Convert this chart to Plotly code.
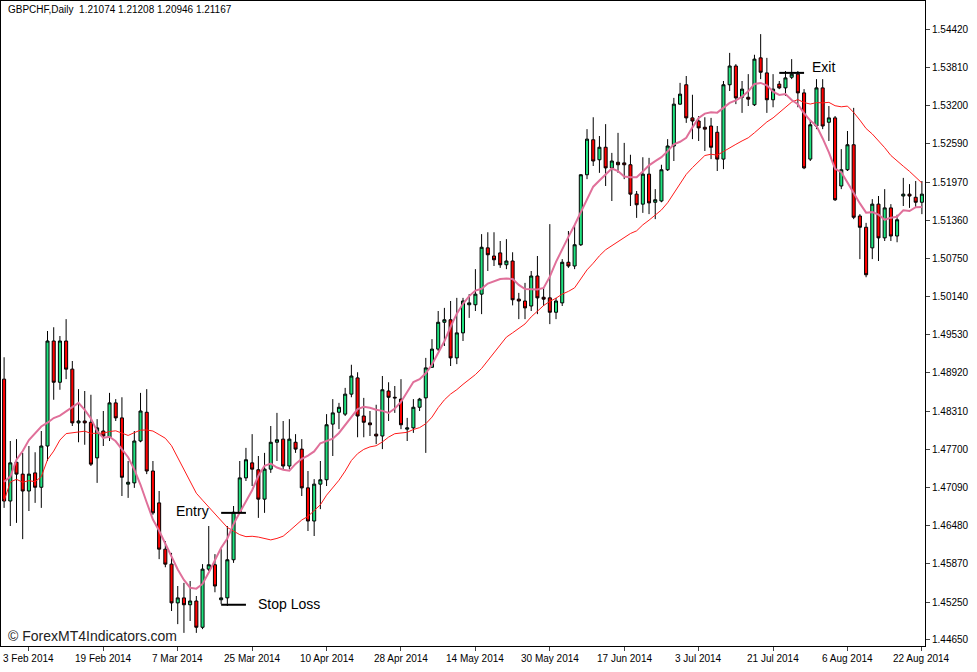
import pandas as pd
import plotly.graph_objects as go

dates = [d.strftime("%Y-%m-%d") for d in pd.bdate_range("2014-01-28", periods=149)]

opens = [1.4882,1.4687,1.4749,1.4730,1.4703,1.4732,1.4709,1.4775,1.4943,1.4877,
1.4943,1.4898,1.4812,1.4815,1.4813,1.4756,1.4799,1.4789,1.4844,1.4820,
1.4714,1.4716,1.4783,1.4829,1.4735,1.4684,1.4610,1.4586,1.4524,1.4532,
1.4521,1.4527,1.4485,1.4578,1.4585,1.4529,1.4532,1.4593,1.4669,1.4724,
1.4748,1.4737,1.4690,1.4738,1.4781,1.4786,1.4743,1.4781,1.4770,1.4708,
1.4655,1.4714,1.4721,1.4810,1.4829,1.4826,1.4858,1.4884,1.4823,1.4812,
1.4794,1.4791,1.4863,1.4853,1.4850,1.4802,1.4804,1.4837,1.4852,1.4901,
1.4930,1.4973,1.4977,1.4916,1.4956,1.5001,1.5001,1.5018,1.5092,1.5079,
1.5084,1.5065,1.5071,1.5010,1.5007,1.4999,1.5047,1.5013,1.5012,1.4989,
1.5004,1.5069,1.5063,1.5097,1.5209,1.5265,1.5233,1.5253,1.5220,1.5229,
1.5228,1.5225,1.5178,1.5162,1.5210,1.5165,1.5167,1.5217,1.5255,1.5322,
1.5353,1.5300,1.5295,1.5285,1.5287,1.5277,1.5234,1.5353,1.5383,1.5333,
1.5333,1.5321,1.5396,1.5372,1.5329,1.5354,1.5348,1.5365,1.5370,1.5340,
1.5234,1.5287,1.5348,1.5293,1.5300,1.5191,1.5217,1.5257,1.5143,1.5125,
1.5092,1.5162,1.5108,1.5156,1.5111,1.5175,1.5178,1.5173,1.5165]
highs = [1.4917,1.4783,1.4786,1.4764,1.4775,1.4765,1.4799,1.4959,1.4965,1.4951,
1.4978,1.4911,1.4866,1.4863,1.4857,1.4818,1.4831,1.4860,1.4850,1.4853,
1.4751,1.4799,1.4860,1.4866,1.4751,1.4703,1.4623,1.4604,1.4551,1.4556,
1.4559,1.4535,1.4586,1.4647,1.4602,1.4610,1.4647,1.4679,1.4751,1.4772,
1.4794,1.4759,1.4764,1.4807,1.4828,1.4815,1.4818,1.4794,1.4786,1.4735,
1.4722,1.4751,1.4826,1.4850,1.4844,1.4868,1.4905,1.4893,1.4852,1.4831,
1.4841,1.4887,1.4877,1.4871,1.4882,1.4820,1.4850,1.4852,1.4916,1.4946,
1.4991,1.4996,1.5007,1.5012,1.5012,1.5018,1.5058,1.5114,1.5117,1.5117,
1.5103,1.5106,1.5085,1.5020,1.5036,1.5055,1.5079,1.5028,1.5130,1.5012,
1.5074,1.5119,1.5130,1.5210,1.5282,1.5301,1.5271,1.5290,1.5244,1.5276,
1.5260,1.5241,1.5183,1.5237,1.5236,1.5186,1.5225,1.5266,1.5332,1.5356,
1.5367,1.5337,1.5303,1.5301,1.5300,1.5287,1.5359,1.5404,1.5386,1.5359,
1.5370,1.5401,1.5434,1.5396,1.5370,1.5359,1.5375,1.5394,1.5375,1.5346,
1.5295,1.5362,1.5362,1.5319,1.5303,1.5250,1.5279,1.5316,1.5146,1.5132,
1.5170,1.5175,1.5186,1.5162,1.5145,1.5204,1.5194,1.5199,1.5199]
lows = [1.4676,1.4647,1.4652,1.4626,1.4671,1.4684,1.4676,1.4751,1.4849,1.4865,
1.4882,1.4807,1.4781,1.4777,1.4743,1.4716,1.4775,1.4783,1.4815,1.4695,
1.4692,1.4708,1.4781,1.4730,1.4665,1.4594,1.4581,1.4511,1.4490,1.4476,
1.4495,1.4476,1.4482,1.4575,1.4541,1.4522,1.4519,1.4588,1.4668,1.4719,
1.4711,1.4660,1.4668,1.4732,1.4751,1.4738,1.4738,1.4764,1.4695,1.4639,
1.4631,1.4674,1.4711,1.4759,1.4802,1.4823,1.4853,1.4789,1.4789,1.4791,
1.4778,1.4770,1.4815,1.4828,1.4802,1.4783,1.4796,1.4831,1.4764,1.4900,
1.4927,1.4935,1.4903,1.4906,1.4943,1.4980,1.4991,1.4986,1.5055,1.5063,
1.5060,1.5058,1.5000,1.4978,1.4978,1.4991,1.4986,1.4999,1.4970,1.4978,
1.4999,1.5060,1.5058,1.5095,1.5202,1.5223,1.5212,1.5191,1.5167,1.5212,
1.5202,1.5159,1.5140,1.5148,1.5146,1.5138,1.5165,1.5215,1.5231,1.5321,
1.5292,1.5266,1.5263,1.5247,1.5234,1.5215,1.5218,1.5343,1.5322,1.5308,
1.5319,1.5319,1.5362,1.5308,1.5317,1.5346,1.5335,1.5362,1.5317,1.5218,
1.5231,1.5282,1.5282,1.5263,1.5167,1.5186,1.5215,1.5138,1.5074,1.5045,
1.5074,1.5071,1.5103,1.5103,1.5101,1.5159,1.5156,1.5156,1.5146]
closes = [1.4687,1.4748,1.4730,1.4703,1.4730,1.4709,1.4775,1.4943,1.4877,1.4943,
1.4898,1.4812,1.4815,1.4812,1.4746,1.4804,1.4791,1.4844,1.4820,1.4725,
1.4717,1.4783,1.4831,1.4735,1.4668,1.4610,1.4586,1.4524,1.4532,1.4521,
1.4527,1.4485,1.4578,1.4585,1.4551,1.4532,1.4593,1.4669,1.4724,1.4753,
1.4738,1.4690,1.4738,1.4781,1.4785,1.4743,1.4786,1.4770,1.4708,1.4655,
1.4714,1.4721,1.4809,1.4828,1.4837,1.4858,1.4887,1.4823,1.4813,1.4809,
1.4791,1.4865,1.4853,1.4852,1.4809,1.4804,1.4837,1.4850,1.4900,1.4930,
1.4973,1.4977,1.4916,1.4956,1.5007,1.5004,1.5018,1.5093,1.5081,1.5073,
1.5065,1.5071,1.5009,1.5007,1.4996,1.5047,1.5012,1.5010,1.4989,1.5007,
1.5069,1.5063,1.5097,1.5209,1.5266,1.5231,1.5253,1.5220,1.5231,1.5225,
1.5225,1.5178,1.5161,1.5210,1.5164,1.5169,1.5217,1.5255,1.5322,1.5338,
1.5300,1.5295,1.5284,1.5282,1.5253,1.5234,1.5353,1.5383,1.5332,1.5346,
1.5330,1.5394,1.5373,1.5329,1.5346,1.5348,1.5364,1.5370,1.5340,1.5220,
1.5289,1.5348,1.5287,1.5300,1.5169,1.5217,1.5257,1.5141,1.5125,1.5049,
1.5162,1.5108,1.5156,1.5111,1.5137,1.5178,1.5175,1.5165,1.5178]

ytick_vals = [1.44650,1.45250,1.45870,1.46480,1.47090,1.47700,1.48310,1.48920,1.49530,
              1.50140,1.50750,1.51360,1.51970,1.52590,1.53200,1.53810,1.54420]
xtick_dates = ["2014-02-03","2014-02-19","2014-03-07","2014-03-25","2014-04-10","2014-04-28",
               "2014-05-14","2014-05-30","2014-06-17","2014-07-03","2014-07-21","2014-08-06","2014-08-22"]
xtick_text = ["3 Feb 2014","19 Feb 2014","7 Mar 2014","25 Mar 2014","10 Apr 2014","28 Apr 2014",
              "14 May 2014","30 May 2014","17 Jun 2014","3 Jul 2014","21 Jul 2014","6 Aug 2014","22 Aug 2014"]
entry_price, stop_price, exit_price = 1.4668, 1.4521, 1.5372
entry_dates = ["2014-03-18","2014-03-24"]
exit_dates = ["2014-07-22","2014-07-28"]

s = pd.Series(closes)
fast = s.rolling(11, center=True, min_periods=1).mean()
slow = s.rolling(21, min_periods=1).mean()

fig = go.Figure()
fig.add_trace(go.Scatter(x=dates, y=slow, mode="lines", line=dict(color="#ff1a1a", width=1), hoverinfo="skip"))
fig.add_trace(go.Scatter(x=dates, y=fast, mode="lines", line=dict(color="#e0709a", width=2), hoverinfo="skip"))
fig.add_trace(go.Candlestick(x=dates, open=opens, high=highs, low=lows, close=closes, whiskerwidth=0,
    increasing=dict(fillcolor="#1fe27f", line=dict(color="#000000", width=1)),
    decreasing=dict(fillcolor="#ff0000", line=dict(color="#000000", width=1))))
for xs, yv in [(entry_dates, entry_price), (entry_dates, stop_price), (exit_dates, exit_price)]:
    fig.add_trace(go.Scatter(x=xs, y=[yv, yv], mode="lines", line=dict(color="black", width=2), hoverinfo="skip"))

f = "Liberation Sans, Arial, sans-serif"
ann = [
    dict(x=entry_dates[0], y=entry_price, text="Entry", xanchor="right", xshift=-10, yshift=2, font=dict(size=14)),
    dict(x=entry_dates[1], y=stop_price, text="Stop Loss", xanchor="left", xshift=10, yshift=1, font=dict(size=14)),
    dict(x=exit_dates[1], y=exit_price, text="Exit", xanchor="left", xshift=6, yshift=6, font=dict(size=14)),
    dict(xref="paper", yref="paper", x=0.005, y=0.998, xanchor="left", yanchor="top",
         text="GBPCHF,Daily  1.21074 1.21208 1.20946 1.21167", font=dict(size=10)),
    dict(xref="paper", yref="paper", x=0.005, y=0.0, xanchor="left", yanchor="bottom",
         text="© ForexMT4Indicators.com", font=dict(size=14, color="#222")),
]
for d, t in zip(xtick_dates, xtick_text):
    ann.append(dict(x=d, yref="paper", y=0, yanchor="top", xanchor="center", yshift=-5,
                    text=t, font=dict(size=10)))
for a in ann:
    a.setdefault("showarrow", False)

fig.update_layout(
    width=977, height=672, margin=dict(l=1, r=52, t=1, b=26, autoexpand=False),
    paper_bgcolor="white", plot_bgcolor="white", showlegend=False,
    font=dict(family=f, color="black"), annotations=ann,
    xaxis=dict(type="category", rangeslider=dict(visible=False), range=[-0.5, 148.5], automargin=False,
               tickvals=xtick_dates, ticktext=[""]*len(xtick_dates), ticks="outside", ticklen=4,
               showgrid=False, showline=True, linecolor="black", mirror=True),
    yaxis=dict(side="right", range=[1.4455, 1.5487], tickvals=ytick_vals, automargin=False,
               ticktext=[f"{v:.5f}" for v in ytick_vals], ticks="outside", ticklen=4,
               tickfont=dict(size=10), showgrid=False, showline=True, linecolor="black", mirror=True),
)
fig.write_html("out.html", config={"displayModeBar": False},
               post_script="document.body.style.margin='0';document.body.style.padding='0';")
